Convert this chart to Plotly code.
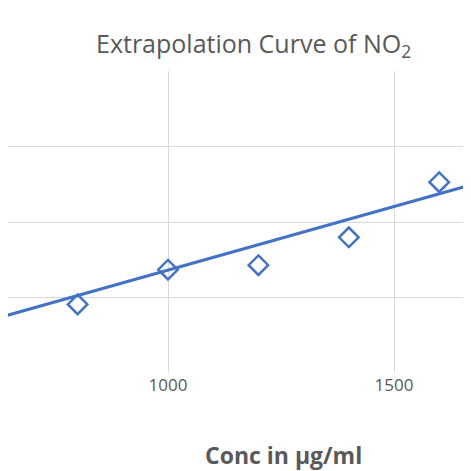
import plotly.graph_objects as go

conc = [800, 1000, 1200, 1400, 1600]
absorb = [0.091, 0.137, 0.143, 0.180, 0.253]
trend_x = [600, 1750]
trend_y = [0.069, 0.263]

BLUE = "#4472C4"
GRAY = "#595959"
FONT = "Open Sans"

fig = go.Figure()
fig.add_trace(go.Scatter(x=trend_x, y=trend_y, mode="lines",
                         line=dict(color=BLUE, width=3), showlegend=False))
fig.add_trace(go.Scatter(x=conc, y=absorb, mode="markers",
                         marker=dict(symbol="diamond-open", size=15, color=BLUE,
                                     line=dict(width=2.5, color=BLUE)),
                         showlegend=False))
W, H = 471, 471
T, B = 63, 106
fig.update_layout(
    width=W, height=H,
    margin=dict(l=0, r=0, t=T, b=B, pad=0),
    plot_bgcolor="white", paper_bgcolor="white",
    font=dict(family=FONT, color=GRAY),
    xaxis=dict(range=[646, 1688], tickvals=[500, 1000, 1500], showgrid=True,
               gridcolor="#D9D9D9", gridwidth=1, zeroline=False, automargin=False,
               tickfont=dict(size=17, color=GRAY), ticks="", ticklen=0),
    yaxis=dict(range=[0, 0.4005], dtick=0.1, showgrid=True, gridcolor="#D9D9D9",
               showticklabels=False, zeroline=False, showline=False, automargin=False),
)
ph = H - T - B
fig.add_annotation(text="Extrapolation Curve of NO<sub>2</sub>", xref="paper", yref="paper",
                   x=405 / W, y=(H - B - 36) / ph, xanchor="right", yanchor="middle",
                   showarrow=False, font=dict(size=25, color=GRAY))
fig.add_annotation(text="<b>Conc in µg/ml</b>", xref="paper", yref="paper",
                   x=275 / W, y=(H - B - 447) / ph, xanchor="center", yanchor="middle",
                   showarrow=False, font=dict(size=23, color=GRAY))
fig.write_html("out.html")
